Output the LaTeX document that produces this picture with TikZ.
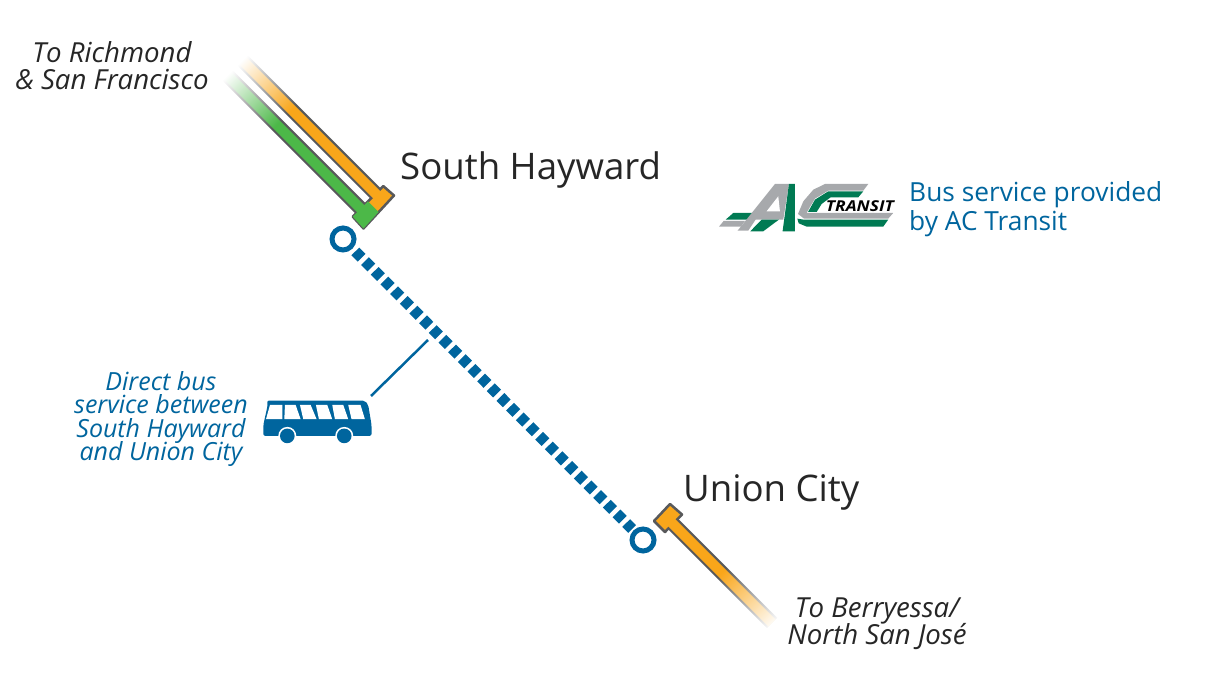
\documentclass[tikz,border=0pt]{standalone}
\usepackage{fontspec}
\setmainfont{Open Sans}
\usetikzlibrary{fadings}
\setlength{\lineskiplimit}{-10pt}
\definecolor{bartblue}{HTML}{00659E}
\definecolor{bartorange}{HTML}{F9A61A}
\definecolor{bartgreen}{HTML}{4CB848}
\definecolor{casegray}{HTML}{58595B}
\definecolor{logogray}{HTML}{A7A9AC}
\definecolor{logogreen}{HTML}{007A53}
\tikzfading[name=linefade, left color=transparent!0, right color=transparent!100]
\tikzset{
    station/.style={circle, draw=bartblue, line width=5pt, fill=white, minimum size=22pt, inner sep=0pt},
    stationname/.style={anchor=west, inner sep=0pt, text=black!85, font=\fontsize{36.6}{37}\selectfont},
    endname/.style={inner sep=0pt, align=center, text=black!85, font=\fontsize{27.6}{27}\selectfont\itshape},
    buslabel/.style={inner sep=0pt, align=center, text=bartblue, font=\fontsize{25}{23.4}\selectfont\itshape},
    infolabel/.style={anchor=west, inner sep=0pt, align=left, text=bartblue, font=\fontsize{26.3}{29}\selectfont},
    linecase/.style={line width=14.5pt, draw=casegray},
    linefill/.style={line width=10pt},
    capcase/.style={draw=casegray, line width=2.5pt, line join=round},
}
\begin{document}
\begin{tikzpicture}[x=1pt, y=-1pt]
    \useasboundingbox (0,0) rectangle (1205,684);
    % lines at the top
    \coordinate (orangeend) at (240,58);
    \coordinate (orangecap) at (381,199);
    \coordinate (greenend) at (222,70);
    \coordinate (greencap) at (365,213);
    \draw[linecase] (orangeend) -- (orangecap);
    \draw[linecase] (greenend) -- (greencap);
    \draw[capcase, fill=bartorange] (383.3,186.1) -- (394,195.5) -- (363.5,228.5) -- (352.8,216.7) -- cycle;
    \draw[linefill, draw=bartorange] (orangeend) -- (orangecap);
    \draw[linefill, draw=bartgreen] (greenend) -- (greencap);
    \fill[bartgreen] (368,201.4) -- (378.5,212) -- (363.5,228.5) -- (352.8,216.7) -- cycle;
    \fill[white, path fading=linefade, fit fading=false, fading transform={shift={(259.5,92.5)}, rotate=-45, scale=1.4}]
        (246.5,35.5) -- (316.5,105.5) -- (272.5,149.5) -- (202.5,79.5) -- cycle;
    % line at the bottom
    \coordinate (southend) at (772,623);
    \coordinate (southcap) at (667,518);
    \draw[linecase] (southend) -- (southcap);
    \draw[capcase, fill=bartorange] (670,504) -- (682,514.5) -- (665,532) -- (654,521) -- cycle;
    \draw[linefill, draw=bartorange] (southend) -- (southcap);
    \fill[white, path fading=linefade, fit fading=false, fading transform={shift={(748,599)}, rotate=135, scale=1.5}]
        (725,552) -- (795,622) -- (771,646) -- (701,576) -- cycle;
    % stations and bus link
    \node[station] (hayward) at (343,239) {};
    \node[station] (unioncity) at (643,540) {};
    \draw[bartblue, line width=11pt, dash pattern=on 9pt off 4.7pt, shorten <=4pt, shorten >=2pt] (hayward) -- (unioncity);
    \coordinate (leadertop) at (428,340);
    \coordinate (leaderbus) at (371,396);
    \draw[bartblue, line width=2.5pt] (leadertop) -- (leaderbus);
    % bus
    \begin{scope}[shift={(255,330)}, x=0.333pt, y=-0.333pt]
        \fill[bartblue, rounded corners=2pt] (36,212) -- (330,212) -- (340,225) -- (350,285) -- (350,318) -- (25,318) -- (25,285) -- (38,226) -- cycle;
        \foreach \xa/\xb/\xc/\xd in {45/82/82/33, 90/122/137/88, 135/167/185/145, 183/217/232/192, 232/265/280/240, 280/317/330/290}
            \fill[white] (\xa,225) -- (\xb,225) -- (\xc,268) -- (\xd,268) -- cycle;
        \foreach \xw in {97,268} {
            \fill[white] (\xw,318) circle (27);
            \fill[bartblue] (\xw,318) circle (22);
        }
    \end{scope}
    % logo, A
    \begin{scope}[shift={(715,178)}, x=0.333pt, y=-0.333pt]
        \fill[logogreen] (55,105) -- (118,105) -- (98,125) -- (32,125) -- cycle;
        \fill[logogray] (26,129) -- (90,129) -- (78,146) -- (12,146) -- cycle;
        \fill[logogray] (180,18) -- (222,18) -- (205,125) -- (122,125) -- (100,158) -- (68,158) -- cycle;
        \fill[white] (190,55) -- (195,100) -- (155,100) -- cycle;
        \fill[logogreen] (222,18) -- (240,18) -- (240,160) -- (203,160) -- cycle;
        \fill[logogreen] (140,125) -- (192,125) -- (145,160) -- (106,160) -- cycle;
    \end{scope}
    % logo, C
    \begin{scope}[shift={(800,178)}, x=0.333pt, y=-0.333pt]
        \fill[logogray] (75,18) -- (205,18) -- (190,38) -- (85,38) -- (45,62) -- (28,90) -- (20,105) -- (280,105) -- (265,122) -- (12,122) -- (-6,108) -- (10,70) -- (40,35) -- cycle;
        \fill[logogreen] (85,40) -- (190,40) -- (175,58) -- (92,58) -- (65,78) -- (50,102) -- (24,102) -- (45,65) -- cycle;
        \fill[logogreen] (-8,122) -- (10,125) -- (265,125) -- (250,146) -- (20,146) -- (-4,136) -- cycle;
        \node[inner sep=0pt] (transitword) at (180,84) {\scalebox{1.16}[1]{\fontsize{15}{15}\selectfont\bfseries\itshape TRANSIT}};
    \end{scope}
    % labels
    \node[endname] (richmond) at (112,66) {To Richmond\\\& San Francisco};
    \node[endname] (berryessa) at (877,624) {To Berryessa/\\North San José};
    \node[stationname] (haywardname) at (400,170) {South Hayward};
    \node[stationname] (unionname) at (683,492) {Union City};
    \node[infolabel] (transitinfo) at (909,209) {Bus service provided\\by AC Transit};
    \node[buslabel] (businfo) at (161,419) {Direct bus\\service between\\South Hayward\\and Union City};
\end{tikzpicture}
\end{document}
